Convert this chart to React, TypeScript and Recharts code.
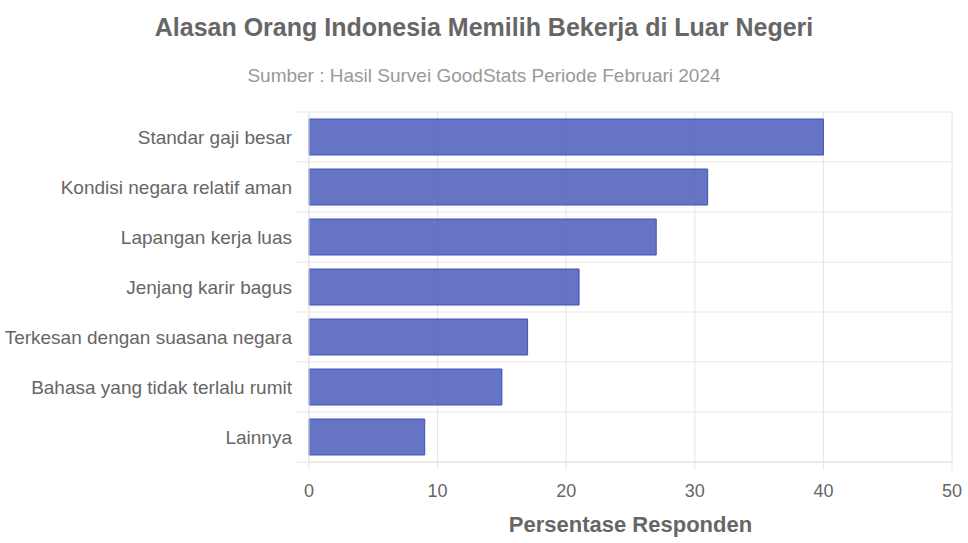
import React from "react";
import { BarChart, Bar, XAxis, YAxis, CartesianGrid } from "recharts";

const categories = [
  "Standar gaji besar",
  "Kondisi negara relatif aman",
  "Lapangan kerja luas",
  "Jenjang karir bagus",
  "Terkesan dengan suasana negara",
  "Bahasa yang tidak terlalu rumit",
  "Lainnya",
];
const values = [40, 31, 27, 21, 17, 15, 9];
const xTicks = [0, 10, 20, 30, 40, 50];

const data = categories.map((name, i) => ({ name, value: values[i] }));

const W = 968;
const H = 543;
const TOP = 112;
const LEFT = 309;
const RIGHT = 16;
const XH = 81;
const plotH = H - TOP - XH;
const band = plotH / categories.length;
const gridYs = categories.map((_, i) => TOP + i * band).concat([TOP + plotH]);
const FONT = "'Liberation Sans', Arial, Helvetica, sans-serif";
const GRID = "#e5e5e5";

const YTick = (props: any) => {
  const { x, y, payload, index } = props;
  return (
    <g>
      <line x1={LEFT - 13} x2={LEFT} y1={y - band / 2} y2={y - band / 2} stroke={GRID} />
      {index === categories.length - 1 && (
        <line x1={LEFT - 13} x2={LEFT} y1={y + band / 2} y2={y + band / 2} stroke={GRID} />
      )}
      <text x={x} y={y} dy="0.35em" textAnchor="end" fill="#666" fontSize={19} fontFamily={FONT}>
        {payload.value}
      </text>
    </g>
  );
};

export default function App() {
  return (
    <div style={{ position: "absolute", left: 0, top: 0, width: W, height: H, background: "#fff", fontFamily: FONT }}>
      <div style={{ position: "absolute", left: 0, width: W, top: 12, textAlign: "center", fontSize: 25, fontWeight: "bold", color: "#666", lineHeight: "30px" }}>
        Alasan Orang Indonesia Memilih Bekerja di Luar Negeri
      </div>
      <div style={{ position: "absolute", left: 0, width: W, top: 64, textAlign: "center", fontSize: 19, color: "#999", lineHeight: "24px" }}>
        Sumber : Hasil Survei GoodStats Periode Februari 2024
      </div>
      <div style={{ position: "absolute", left: 0, top: 0 }}>
        <BarChart
          width={W}
          height={H}
          data={data}
          layout="vertical"
          margin={{ top: TOP, right: RIGHT, left: 0, bottom: 0 }}
          barCategoryGap={0}
        >
          <CartesianGrid stroke={GRID} horizontalPoints={gridYs} />
          <XAxis
            type="number"
            domain={[0, 50]}
            ticks={xTicks}
            height={XH}
            tickSize={8}
            tickMargin={14}
            tick={{ fill: "#666", fontSize: 18, fontFamily: FONT }}
            stroke={GRID}
            axisLine={{ stroke: GRID }}
            tickLine={{ stroke: GRID }}
            label={{
              value: "Persentase Responden",
              position: "insideBottom",
              offset: 11,
              fill: "#666",
              fontSize: 22,
              fontWeight: "bold",
              fontFamily: FONT,
            }}
          />
          <YAxis
            type="category"
            dataKey="name"
            width={LEFT}
            tickSize={13}
            tickMargin={4}
            tickLine={false}
            axisLine={{ stroke: GRID }}
            tick={<YTick />}
            interval={0}
          />
          <Bar
            dataKey="value"
            barSize={36}
            fill="rgba(63,81,181,0.8)"
            stroke="#3F51B5"
            strokeWidth={1}
            isAnimationActive={false}
          />
        </BarChart>
      </div>
    </div>
  );
}
